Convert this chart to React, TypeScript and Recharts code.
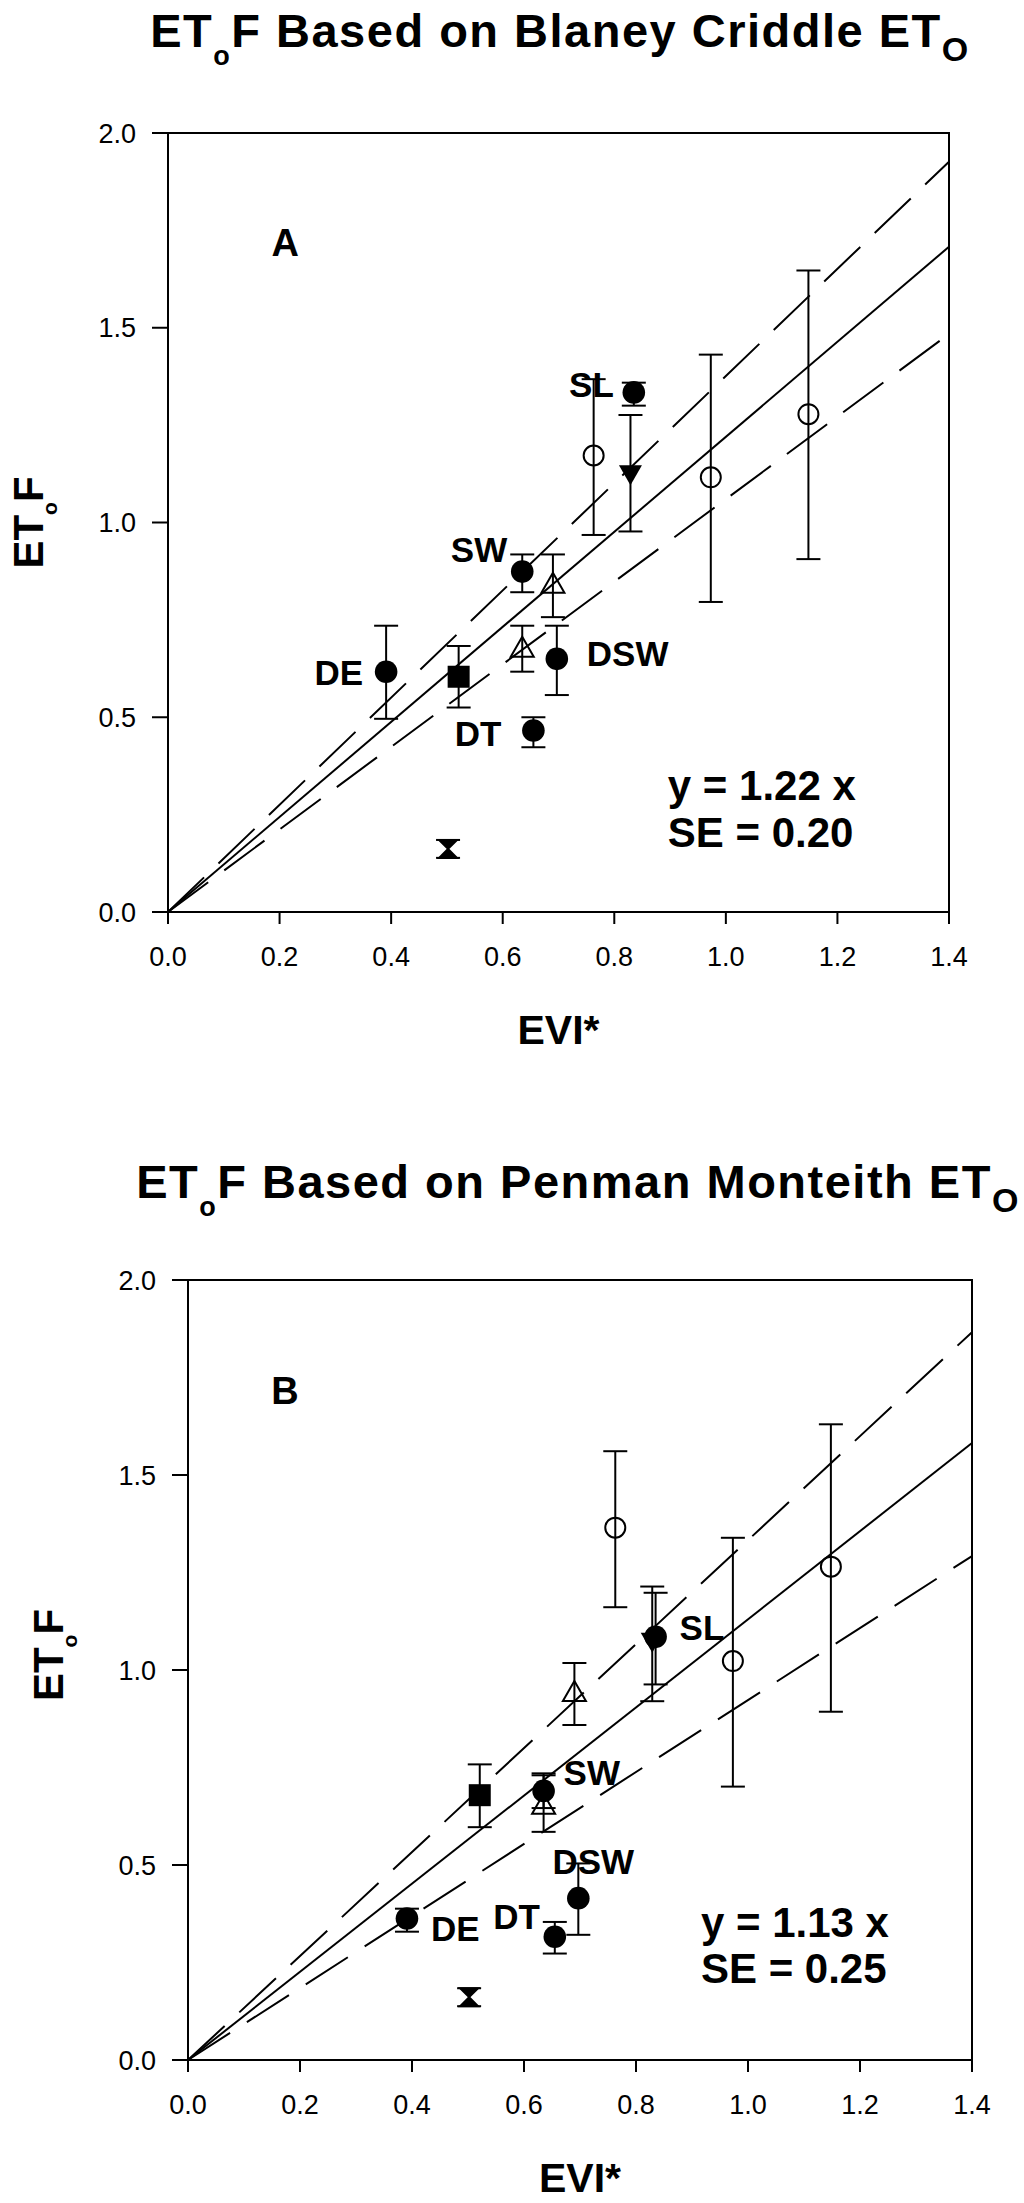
import React from "react";
import {
  ScatterChart,
  Scatter,
  XAxis,
  YAxis,
  ErrorBar,
  ReferenceLine,
  ReferenceArea,
  ReferenceDot,
} from "recharts";

const FONT = "'Liberation Sans', Arial, Helvetica, sans-serif";

const xTicks = [0, 0.2, 0.4, 0.6, 0.8, 1.0, 1.2, 1.4];
const yTicks = [0, 0.5, 1.0, 1.5, 2.0];

// sites, same order in both panels
// fc = filled circle, sq = filled square, hg = hourglass, tu = open triangle,
// oc = open circle, td = filled down triangle
const siteKind = ["fc", "sq", "hg", "fc", "tu", "tu", "fc", "fc", "oc", "td", "fc", "oc", "oc"];
const siteLabel = ["DE", "", "", "SW", "", "", "DSW", "DT", "", "", "SL", "", ""];
const evi = [0.391, 0.521, 0.502, 0.635, 0.635, 0.69, 0.697, 0.655, 0.763, 0.829, 0.835, 0.973, 1.148];

// panel A: Blaney Criddle
const etofA = [0.617, 0.604, 0.162, 0.874, 0.681, 0.845, 0.65, 0.466, 1.172, 1.121, 1.334, 1.116, 1.278];
const lowA = [0.496, 0.525, 0.139, 0.821, 0.617, 0.757, 0.557, 0.423, 0.968, 0.977, 1.3, 0.796, 0.906];
const highA = [0.735, 0.683, 0.185, 0.918, 0.735, 0.918, 0.735, 0.5, 1.368, 1.276, 1.359, 1.431, 1.647];
const slopesA = { fit: 1.22, upper: 1.376, lower: 1.06 };

// panel B: Penman Monteith
const etofB = [0.363, 0.679, 0.161, 0.69, 0.657, 0.946, 0.415, 0.316, 1.365, 1.07, 1.085, 1.023, 1.265];
const lowB = [0.329, 0.597, 0.138, 0.646, 0.585, 0.859, 0.321, 0.273, 1.161, 0.92, 0.963, 0.701, 0.893];
const highB = [0.388, 0.758, 0.184, 0.735, 0.73, 1.018, 0.504, 0.354, 1.561, 1.214, 1.198, 1.339, 1.63];
const slopesB = { fit: 1.13, upper: 1.333, lower: 0.923 };

type LabelPos = { dx: number; dy: number; anchor: "start" | "middle" | "end" };

const labelPosA: Record<string, LabelPos> = {
  DE: { dx: -23, dy: 1, anchor: "end" },
  SW: { dx: -15, dy: -22, anchor: "end" },
  DSW: { dx: 30, dy: -5, anchor: "start" },
  DT: { dx: -32, dy: 3, anchor: "end" },
  SL: { dx: -20, dy: -8, anchor: "end" },
};

const labelPosB: Record<string, LabelPos> = {
  DE: { dx: 24, dy: 10, anchor: "start" },
  SW: { dx: 20, dy: -18, anchor: "start" },
  DSW: { dx: 15, dy: -37, anchor: "middle" },
  DT: { dx: -15, dy: -20, anchor: "end" },
  SL: { dx: 24, dy: -9, anchor: "start" },
};

function buildPoints(etof: number[], low: number[], high: number[]) {
  return evi.map((x, i) => ({
    x,
    y: etof[i],
    err: [etof[i] - low[i], high[i] - etof[i]],
    kind: siteKind[i],
    name: siteLabel[i],
  }));
}

const LABEL_SIZE = 35;

function makeMarker(labelPos: Record<string, LabelPos>) {
  return (props: any) => {
    const { cx, cy, payload } = props;
    if (cx == null || cy == null) return <g />;
    let mark: React.ReactNode = null;
    switch (payload.kind) {
      case "fc":
        mark = <circle cx={cx} cy={cy} r={11.3} fill="#000" />;
        break;
      case "oc":
        mark = <circle cx={cx} cy={cy} r={10} fill="none" stroke="#000" strokeWidth={2} />;
        break;
      case "sq":
        mark = <rect x={cx - 11} y={cy - 11} width={22} height={22} fill="#000" />;
        break;
      case "tu":
        mark = (
          <path
            d={`M${cx},${cy - 10} L${cx + 11.5},${cy + 10} L${cx - 11.5},${cy + 10} Z`}
            fill="none"
            stroke="#000"
            strokeWidth={2}
          />
        );
        break;
      case "td":
        mark = <path d={`M${cx},${cy + 10} L${cx + 11.5},${cy - 10} L${cx - 11.5},${cy - 10} Z`} fill="#000" />;
        break;
      case "hg":
        mark = (
          <path
            d={`M${cx - 9},${cy - 9} L${cx + 9},${cy - 9} L${cx},${cy} Z M${cx - 9},${cy + 9} L${cx + 9},${cy + 9} L${cx},${cy} Z`}
            fill="#000"
            stroke="#000"
            strokeWidth={2}
          />
        );
        break;
    }
    const lp = payload.name ? labelPos[payload.name] : null;
    return (
      <g>
        {mark}
        {lp && (
          <text
            x={cx + lp.dx}
            y={cy + lp.dy + LABEL_SIZE * 0.358}
            textAnchor={lp.anchor}
            fontSize={LABEL_SIZE}
            fontWeight="bold"
            fontFamily={FONT}
            fill="#000"
          >
            {payload.name}
          </text>
        )}
      </g>
    );
  };
}

function YTitle(props: any) {
  const vb = props.viewBox || {};
  const x = vb.x + vb.width - 125;
  const y = vb.y + vb.height / 2 + (props.shift || 0);
  return (
    <text
      x={x}
      y={y}
      transform={`rotate(-90, ${x}, ${y})`}
      textAnchor="middle"
      fontSize={42}
      fontWeight="bold"
      fontFamily={FONT}
      fill="#000"
    >
      ET
      <tspan fontSize={21} dy={14}>o</tspan>
      <tspan dy={-14}>F</tspan>
    </text>
  );
}

function XTitle(props: any) {
  const vb = props.viewBox || {};
  return (
    <text
      x={vb.x + vb.width / 2}
      y={vb.y + 132}
      textAnchor="middle"
      fontSize={41}
      fontWeight="bold"
      fontFamily={FONT}
      fill="#000"
    >
      EVI*
    </text>
  );
}

function textNote(value: string, size: number, anchor: "start" | "middle") {
  return (p: any) => (
    <text
      x={p.cx}
      y={p.cy + size * 0.358}
      textAnchor={anchor}
      fontSize={size}
      fontWeight="bold"
      fontFamily={FONT}
      fill="#000"
    >
      {value}
    </text>
  );
}

type PanelProps = {
  top: number;
  height: number;
  margin: { top: number; right: number; bottom: number; left: number };
  titleMain: string;
  titleX: number;
  titleY: number;
  letter: string;
  letterAt: [number, number];
  equation: string;
  se: string;
  noteAt: [number, number, number];
  yShift: number;
  points: ReturnType<typeof buildPoints>;
  slopes: { fit: number; upper: number; lower: number };
  labelPos: Record<string, LabelPos>;
};

function Panel(p: PanelProps) {
  const axisStyle = { stroke: "#000", strokeWidth: 2 };
  const tickStyle = { fill: "#000", fontSize: 27, fontFamily: FONT };
  return (
    <div style={{ position: "absolute", left: 0, top: p.top, width: 1024, height: p.height }}>
      <svg width={1024} height={p.height} style={{ position: "absolute", left: 0, top: 0 }}>
        <text
          x={p.titleX}
          y={p.titleY}
          textAnchor="middle"
          fontSize={47}
          letterSpacing={1.5}
          fontWeight="bold"
          fontFamily={FONT}
          fill="#000"
        >
          ET
          <tspan fontSize={27} dy={18}>o</tspan>
          <tspan dy={-18}>{p.titleMain}</tspan>
          <tspan fontSize={34} dy={14}>O</tspan>
        </text>
      </svg>
      <div style={{ position: "absolute", left: 0, top: 0 }}>
        <ScatterChart width={1024} height={p.height} margin={p.margin}>
          <XAxis
            type="number"
            dataKey="x"
            domain={[0, 1.4]}
            ticks={xTicks}
            interval={0}
            allowDataOverflow
            tickFormatter={(v: number) => v.toFixed(1)}
            axisLine={axisStyle}
            tickLine={axisStyle}
            stroke="#000"
            tickSize={12}
            tickMargin={23}
            height={100}
            tick={tickStyle}
            label={<XTitle />}
          />
          <YAxis
            type="number"
            dataKey="y"
            domain={[0, 2]}
            ticks={yTicks}
            interval={0}
            allowDataOverflow
            tickFormatter={(v: number) => v.toFixed(1)}
            axisLine={axisStyle}
            tickLine={axisStyle}
            stroke="#000"
            tickSize={16}
            tickMargin={16}
            width={100}
            tick={tickStyle}
            label={<YTitle shift={p.yShift} />}
          />
          <ReferenceArea x1={0} x2={1.4} y1={0} y2={2} fill="none" stroke="#000" strokeWidth={2} ifOverflow="visible" />
          <ReferenceLine
            segment={[{ x: 0, y: 0 }, { x: 1.4, y: 1.4 * p.slopes.fit }]}
            stroke="#000"
            strokeWidth={2}
            ifOverflow="visible"
          />
          <ReferenceLine
            segment={[{ x: 0, y: 0 }, { x: 1.4, y: 1.4 * p.slopes.upper }]}
            stroke="#000"
            strokeWidth={2}
            strokeDasharray="50 20"
            ifOverflow="visible"
          />
          <ReferenceLine
            segment={[{ x: 0, y: 0 }, { x: 1.4, y: 1.4 * p.slopes.lower }]}
            stroke="#000"
            strokeWidth={2}
            strokeDasharray="50 20"
            ifOverflow="visible"
          />
          <ReferenceDot x={p.letterAt[0]} y={p.letterAt[1]} r={1} shape={textNote(p.letter, 38, "middle")} />
          <ReferenceDot x={p.noteAt[0]} y={p.noteAt[1]} r={1} shape={textNote(p.equation, 42, "start")} />
          <ReferenceDot x={p.noteAt[0]} y={p.noteAt[2]} r={1} shape={textNote(p.se, 42, "start")} />
          <Scatter data={p.points} shape={makeMarker(p.labelPos)} isAnimationActive={false}>
            <ErrorBar
              dataKey="err"
              direction="y"
              width={12}
              stroke="#000"
              strokeWidth={2}
              isAnimationActive={false}
            />
          </Scatter>
        </ScatterChart>
      </div>
    </div>
  );
}

export default function App() {
  return (
    <div style={{ position: "absolute", left: 0, top: 0, width: 1024, height: 2203, background: "#fff" }}>
      <Panel
        top={0}
        height={1100}
        margin={{ top: 133, right: 75, bottom: 88, left: 68 }}
        titleMain="F Based on Blaney Criddle ET"
        titleX={560}
        titleY={47}
        letter="A"
        letterAt={[0.21, 1.718]}
        equation="y = 1.22 x"
        se="SE = 0.20"
        noteAt={[0.896, 0.326, 0.205]}
        yShift={0}
        points={buildPoints(etofA, lowA, highA)}
        slopes={slopesA}
        labelPos={labelPosA}
      />
      <Panel
        top={1100}
        height={1103}
        margin={{ top: 180, right: 52, bottom: 43, left: 88 }}
        titleMain="F Based on Penman Monteith ET"
        titleX={578}
        titleY={98}
        letter="B"
        letterAt={[0.173, 1.716]}
        equation="y = 1.13 x"
        se="SE = 0.25"
        noteAt={[0.916, 0.355, 0.235]}
        yShift={-15}
        points={buildPoints(etofB, lowB, highB)}
        slopes={slopesB}
        labelPos={labelPosB}
      />
    </div>
  );
}
